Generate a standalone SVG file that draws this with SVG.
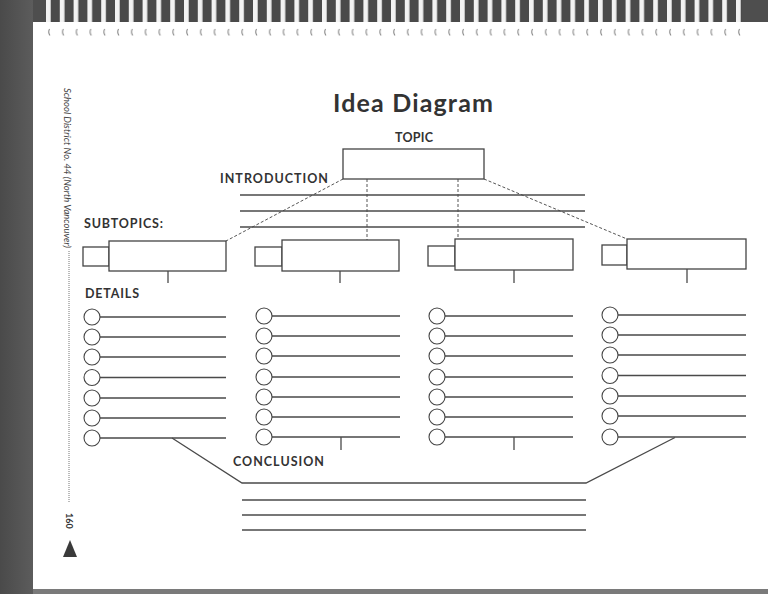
<svg xmlns="http://www.w3.org/2000/svg" width="768" height="594" viewBox="0 0 768 594">
  <defs>
    <pattern id="coil" x="46" y="0" width="13.8" height="40" patternUnits="userSpaceOnUse">
      <rect x="0" y="0" width="4.8" height="22" fill="#f2f2f2"/>
      <rect x="4.8" y="0" width="9" height="22" fill="#4a4a4a"/>
      <path d="M3.5,29 q-1.8,3 0.4,6.5" fill="none" stroke="#8a8a8a" stroke-width="1.1"/>
    </pattern>
    <linearGradient id="bg" x1="0" y1="0" x2="1" y2="0">
      <stop offset="0" stop-color="#4a4a4a"/>
      <stop offset="1" stop-color="#5c5c5c"/>
    </linearGradient>
  </defs>
  <style>
    .ln { stroke: #4a4a4a; stroke-width: 1.3; fill: none; }
    .bx { stroke: #444; stroke-width: 1.3; fill: #fff; }
    .dash { stroke: #555; stroke-width: 1; fill: none; stroke-dasharray: 3 2; }
    .dot { stroke: #444; stroke-width: 1.1; fill: #fff; }
    .lbl { font-family: Lato, "Liberation Sans", sans-serif; font-weight: bold; fill: #333; }
    .side { font-family: Lato, "Liberation Sans", sans-serif; font-style: italic; fill: #444; }
  </style>

  <!-- background and page -->
  <rect x="0" y="0" width="768" height="594" fill="#4e4e4e"/>
  <rect x="0" y="0" width="33" height="594" fill="url(#bg)"/>
  <rect x="33" y="22" width="735" height="568" fill="#ffffff"/>
  <rect x="33" y="0" width="712" height="22" fill="#4e4e4e"/>
  <rect x="46" y="0" width="696" height="40" fill="url(#coil)"/>
  <rect x="33" y="22" width="13" height="18" fill="#ffffff"/>
  <rect x="33" y="589" width="735" height="5" fill="#7a7a7a"/>

  <!-- side text -->
  <g id="side-text">
    <text class="side" font-size="8.6" transform="translate(64,88) rotate(90)" textLength="160" lengthAdjust="spacingAndGlyphs">School District No. 44 (North Vancouver)</text>
    <line x1="69" y1="251" x2="69" y2="503" stroke="#666" stroke-width="0.9" stroke-dasharray="1 1"/>
    <text class="lbl" font-size="9" transform="translate(66,513) rotate(90)">160</text>
    <polygon points="70,540 63,557 77,557" fill="#3a3a3a"/>
  </g>

  <!-- title and labels -->
  <g id="title">
    <text class="lbl" x="333" y="112" font-size="25" textLength="160">Idea Diagram</text>
  </g>
  <g id="labels">
    <text class="lbl" x="395" y="142" font-size="12.5" textLength="38">TOPIC</text>
    <text class="lbl" x="220" y="182.5" font-size="12.5" textLength="108">INTRODUCTION</text>
    <text class="lbl" x="84" y="228" font-size="12.5" textLength="79">SUBTOPICS:</text>
    <text class="lbl" x="85" y="298" font-size="12.5" textLength="54">DETAILS</text>
    <text class="lbl" x="233" y="466" font-size="12.5" textLength="91">CONCLUSION</text>
  </g>

  <!-- connectors -->
  <g id="connectors">
    <path class="dash" d="M343,179 L226,241"/>
    <path class="dash" d="M484,179 L627,239"/>
    <path class="dash" d="M367,179 V240"/>
    <path class="dash" d="M458,179 V239"/>
    <path class="ln" d="M172,438 L242,483 L586,483 L675,437.5"/>
  </g>

  <!-- topic -->
  <g id="topic">
    <rect class="bx" x="343" y="149" width="141" height="30"/>
  </g>

  <!-- introduction lines -->
  <g id="introduction">
    <line class="ln" x1="240" y1="195" x2="585" y2="195"/>
    <line class="ln" x1="240" y1="211" x2="585" y2="211"/>
    <line class="ln" x1="240" y1="227" x2="585" y2="227"/>
  </g>

  <!-- subtopics -->
  <g id="subtopic-1">
    <rect class="bx" x="83" y="247" width="26" height="19"/>
    <rect class="bx" x="109" y="241" width="117" height="30"/>
    <line class="ln" x1="168" y1="271" x2="168" y2="283"/>
  </g>
  <g id="subtopic-2">
    <rect class="bx" x="255" y="247" width="27" height="19"/>
    <rect class="bx" x="282" y="240" width="117" height="31"/>
    <line class="ln" x1="340" y1="271" x2="340" y2="283"/>
  </g>
  <g id="subtopic-3">
    <rect class="bx" x="428" y="246" width="27" height="20"/>
    <rect class="bx" x="455" y="239" width="118" height="31"/>
    <line class="ln" x1="514" y1="270" x2="514" y2="283"/>
  </g>
  <g id="subtopic-4">
    <rect class="bx" x="602" y="245" width="25" height="20"/>
    <rect class="bx" x="627" y="239" width="119" height="30"/>
    <line class="ln" x1="687" y1="269" x2="687" y2="283"/>
  </g>

  <!-- details -->
  <g id="details-1">
    <path class="ln" d="M100,317 H226 M100,337 H226 M100,357 H226 M100,377.5 H226 M100,398 H226 M100,418 H226 M100,438 H226"/>
    <circle class="dot" cx="92" cy="317" r="8"/>
    <circle class="dot" cx="92" cy="337" r="8"/>
    <circle class="dot" cx="92" cy="357" r="8"/>
    <circle class="dot" cx="92" cy="377.5" r="8"/>
    <circle class="dot" cx="92" cy="398" r="8"/>
    <circle class="dot" cx="92" cy="418" r="8"/>
    <circle class="dot" cx="92" cy="438" r="8"/>
  </g>
  <g id="details-2">
    <path class="ln" d="M272,316 H400 M272,336 H400 M272,356 H400 M272,377 H400 M272,397 H400 M272,417 H400 M272,437 H400 M341,437 V450"/>
    <circle class="dot" cx="264" cy="316" r="8"/>
    <circle class="dot" cx="264" cy="336" r="8"/>
    <circle class="dot" cx="264" cy="356" r="8"/>
    <circle class="dot" cx="264" cy="377" r="8"/>
    <circle class="dot" cx="264" cy="397" r="8"/>
    <circle class="dot" cx="264" cy="417" r="8"/>
    <circle class="dot" cx="264" cy="437" r="8"/>
  </g>
  <g id="details-3">
    <path class="ln" d="M445,316 H573 M445,336 H573 M445,356 H573 M445,377 H573 M445,397 H573 M445,417 H573 M445,437 H573 M514,437 V450"/>
    <circle class="dot" cx="437" cy="316" r="8"/>
    <circle class="dot" cx="437" cy="336" r="8"/>
    <circle class="dot" cx="437" cy="356" r="8"/>
    <circle class="dot" cx="437" cy="377" r="8"/>
    <circle class="dot" cx="437" cy="397" r="8"/>
    <circle class="dot" cx="437" cy="417" r="8"/>
    <circle class="dot" cx="437" cy="437" r="8"/>
  </g>
  <g id="details-4">
    <path class="ln" d="M618,315 H746 M618,335 H746 M618,355 H746 M618,375.5 H746 M618,396 H746 M618,416 H746 M618,437 H746"/>
    <circle class="dot" cx="610" cy="315" r="8"/>
    <circle class="dot" cx="610" cy="335" r="8"/>
    <circle class="dot" cx="610" cy="355" r="8"/>
    <circle class="dot" cx="610" cy="375.5" r="8"/>
    <circle class="dot" cx="610" cy="396" r="8"/>
    <circle class="dot" cx="610" cy="416" r="8"/>
    <circle class="dot" cx="610" cy="437" r="8"/>
  </g>

  <!-- conclusion lines -->
  <g id="conclusion">
    <line class="ln" x1="242" y1="500" x2="586" y2="500"/>
    <line class="ln" x1="242" y1="515" x2="586" y2="515"/>
    <line class="ln" x1="242" y1="530" x2="586" y2="530"/>
  </g>
</svg>
